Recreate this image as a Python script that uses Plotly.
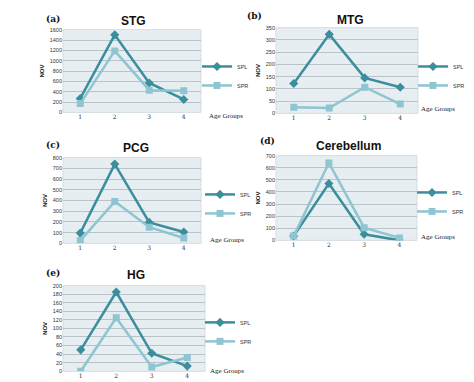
import plotly.graph_objects as go

age_groups = ["1", "2", "3", "4"]

stg_spl = [270, 1500, 570, 250]
stg_spr = [170, 1190, 430, 420]
mtg_spl = [122, 323, 145, 107]
mtg_spr = [25, 22, 107, 38]
pcg_spl = [95, 740, 195, 105]
pcg_spr = [25, 390, 150, 50]
cer_spl = [35, 470, 50, 0]
cer_spr = [35, 640, 105, 20]
hg_spl = [50, 185, 42, 12]
hg_spr = [0, 125, 10, 32]

titles = ["STG", "MTG", "PCG", "Cerebellum", "HG"]
letters = ["(a)", "(b)", "(c)", "(d)", "(e)"]
spl_sets = [stg_spl, mtg_spl, pcg_spl, cer_spl, hg_spl]
spr_sets = [stg_spr, mtg_spr, pcg_spr, cer_spr, hg_spr]
y_max = [1600, 350, 800, 700, 200]
y_step = [200, 50, 100, 100, 20]

W, H = 474, 382
# plot area pixel boxes: (left, right, top, bottom)
boxes = [(55, 193, 19, 103), (268, 410, 17, 104), (55, 193, 149, 236),
         (268, 409, 147, 233), (55, 197, 279, 366)]
legend_pos = [(189, 66), (405, 66), (192, 196), (404, 194), (192, 326)]
letter_pos = [(45, 8), (247, 5), (45, 136), (259, 132), (45, 266)]
title_pos = [(126, 10), (342, 9), (128, 139), (340, 137), (128, 268)]
agegrp_pos = [(199, 107), (411, 100), (200, 233), (411, 230), (200, 366)]

SPL_C = "#3a8e9e"
SPR_C = "#8ec5d0"

fig = go.Figure()
layout = dict(width=W, height=H, margin=dict(l=0, r=0, t=0, b=0),
              paper_bgcolor="white", showlegend=True, annotations=[])

for i in range(5):
    l, r, t, b = boxes[i]
    xa = "xaxis" if i == 0 else f"xaxis{i+1}"
    ya = "yaxis" if i == 0 else f"yaxis{i+1}"
    xr = "x" if i == 0 else f"x{i+1}"
    yr = "y" if i == 0 else f"y{i+1}"
    lg = "legend" if i == 0 else f"legend{i+1}"
    fig.add_trace(go.Scatter(x=age_groups, y=spl_sets[i], name="SPL", xaxis=xr, yaxis=yr,
                             mode="lines+markers", line=dict(color=SPL_C, width=2.5),
                             marker=dict(symbol="diamond", size=7, color=SPL_C),
                             legend=lg))
    fig.add_trace(go.Scatter(x=age_groups, y=spr_sets[i], name="SPR", xaxis=xr, yaxis=yr,
                             mode="lines+markers", line=dict(color=SPR_C, width=2.5),
                             marker=dict(symbol="square", size=7, color=SPR_C),
                             legend=lg))
    layout[xa] = dict(domain=[l / W, r / W], anchor=yr, type="category",
                      range=[-0.5, 3.5], showgrid=False, showline=False,
                      ticks="", tickfont=dict(size=6, color="#333", family="DejaVu Serif"))
    layout[ya] = dict(domain=[1 - b / H, 1 - t / H], anchor=xr,
                      range=[0, y_max[i]], dtick=y_step[i], showgrid=True,
                      gridcolor="#b9c3c8", gridwidth=1, zeroline=False,
                      showline=False, ticks="",
                      tickfont=dict(size=5.5, color="#333", family="Liberation Sans"),
                      title=dict(text="<b>NOV</b>", font=dict(size=6, color="#222",
                                 family="Liberation Sans"), standoff=4))
    fig.add_shape(type="rect", xref="paper", yref="paper",
                  x0=l / W, x1=r / W, y0=1 - b / H, y1=1 - t / H,
                  fillcolor="#e7eef2", line=dict(color="#d4dde2", width=1), layer="below")
    lx, ly = legend_pos[i]
    layout[lg] = dict(x=lx / W, y=1 - ly / H, xanchor="left", yanchor="middle",
                      bgcolor="rgba(0,0,0,0)", font=dict(size=5.5, color="#333",
                      family="Liberation Sans"), itemwidth=30, tracegroupgap=0)
    tx, ty = title_pos[i]
    layout["annotations"].append(dict(text=f"<b>{titles[i]}</b>", x=tx / W, y=1 - ty / H,
                                      xref="paper", yref="paper", showarrow=False,
                                      xanchor="center", yanchor="middle",
                                      font=dict(size=12, color="#111", family="Liberation Sans")))
    px_, py_ = letter_pos[i]
    layout["annotations"].append(dict(text=f"<b>{letters[i]}</b>", x=px_ / W, y=1 - py_ / H,
                                      xref="paper", yref="paper", showarrow=False,
                                      xanchor="center", yanchor="middle",
                                      font=dict(size=9, color="#111", family="DejaVu Serif")))
    ax, ay = agegrp_pos[i]
    layout["annotations"].append(dict(text="Age Groups", x=ax / W, y=1 - ay / H,
                                      xref="paper", yref="paper", showarrow=False,
                                      xanchor="left", yanchor="middle",
                                      font=dict(size=7, color="#222", family="Liberation Serif")))

fig.update_layout(**layout)
fig.write_html("out.html")
